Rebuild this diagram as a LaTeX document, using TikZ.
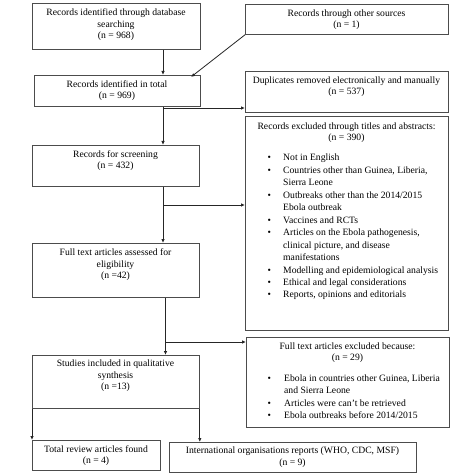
\documentclass[tikz,border=0pt]{standalone}
\usepackage{fontspec}
\setmainfont{Liberation Serif}
\usetikzlibrary{arrows.meta}
\tikzset{
  box/.style={draw=black!70, line width=0.8bp, rectangle, inner sep=0pt, anchor=north west},
  txt/.style={align=center, inner sep=0pt, font=\fontsize{9.7}{11.6}\selectfont},
  lst/.style={inner sep=0pt, anchor=west, font=\fontsize{9.7}{12.5}\selectfont},
  arr/.style={draw=black!85, line width=0.8bp, -{Latex[length=4bp,width=3.5bp]}},
  ln/.style={draw=black!85, line width=0.8bp}
}
\begin{document}
\begin{tikzpicture}[x=1bp,y=-1bp]
\useasboundingbox[fill=white] (0,0) rectangle (474,474);
% boxes
\node[box, minimum width=168bp, minimum height=46bp] (A) at (32,3) {};
\node[box, minimum width=203bp, minimum height=30bp] (B) at (245,4) {};
\node[box, minimum width=166bp, minimum height=31bp] (C) at (34,75) {};
\node[box, minimum width=203bp, minimum height=41bp] (D) at (245,71) {};
\node[box, minimum width=203bp, minimum height=214bp] (E) at (245,116) {};
\node[box, minimum width=167bp, minimum height=41bp] (F) at (32,145) {};
\node[box, minimum width=167bp, minimum height=54bp] (G) at (32,243) {};
\node[box, minimum width=203bp, minimum height=90bp] (H) at (246,337) {};
\node[box, minimum width=167bp, minimum height=53bp] (I) at (32,355) {};
\node[box, minimum width=128bp, minimum height=30bp] (J) at (32,440) {};
\node[box, minimum width=247bp, minimum height=30bp] (K) at (169,442) {};
% texts
\node[txt] (tA) at (116,25) {Records identified through database\\searching\\(n = 968)};
\node[txt] (tB) at (346.5,19.5) {Records through other sources\\(n = 1)};
\node[txt] (tC) at (117,90.5) {Records identified in total\\(n = 969)};
\node[txt] (tD) at (346.5,86.5) {Duplicates removed electronically and manually\\(n = 537)};
\node[txt] (tE) at (346.5,132.5) {Records excluded through titles and abstracts:\\(n = 390)};
\node[lst] (lE) at (267.3,227) {\begin{tabular}{@{}p{15.7bp}@{}l@{}}
\textbullet & Not in English\\
\textbullet & Countries other than Guinea, Liberia,\\
 & Sierra Leone\\
\textbullet & Outbreaks other than the 2014/2015\\
 & Ebola outbreak\\
\textbullet & Vaccines and RCTs\\
\textbullet & Articles on the Ebola pathogenesis,\\
 & clinical picture, and disease\\
 & manifestations\\
\textbullet & Modelling and epidemiological analysis\\
\textbullet & Ethical and legal considerations\\
\textbullet & Reports, opinions and editorials
\end{tabular}};
\node[txt] (tF) at (115.5,160.5) {Records for screening\\(n = 432)};
\node[txt] (tG) at (115.5,265) {Full text articles assessed for\\eligibility\\(n =42)};
\node[txt] (tH) at (347.5,352.5) {Full text articles excluded because:\\(n = 29)};
\node[lst] (lH) at (267.5,397.5) {\begin{tabular}{@{}p{16.5bp}@{}l@{}}
\textbullet & Ebola in countries other Guinea, Liberia\\
 & and Sierra Leone\\
\textbullet & Articles were can’t be retrieved\\
\textbullet & Ebola outbreaks before 2014/2015
\end{tabular}};
\node[txt] (tI) at (115.5,376) {Studies included in qualitative\\synthesis\\(n =13)};
\node[txt] (tJ) at (96,455.5) {Total review articles found\\(n = 4)};
\node[txt] (tK) at (292.5,457) {International organisations reports (WHO, CDC, MSF)\\(n = 9)};
% connectors
\coordinate (x1) at (163,0);
\coordinate (x2) at (165.5,0);
\coordinate (y1) at (0,108);
\coordinate (y2) at (0,205);
\coordinate (y3) at (0,342);
\coordinate (cb) at (191,0);
\draw[arr] (x1 |- A.south) -- (x1 |- C.north);
\draw[arr] (B.south west) -- ([yshift=-2bp]cb |- C.north);
\draw[arr] (x1 |- C.south) -- (x1 |- F.north);
\draw[arr] (x1 |- y1) -- (D.west |- y1);
\draw[arr] (x1 |- F.south) -- (x1 |- G.north);
\draw[arr] (x1 |- y2) -- (E.west |- y2);
\draw[arr] (x2 |- G.south) -- (x2 |- I.north);
\draw[arr] (x2 |- y3) -- (H.west |- y3);
\draw[arr] (I.south west) -- (J.north west);
\draw[arr] (I.south east) -- (I.south east |- K.north);
\end{tikzpicture}
\end{document}
